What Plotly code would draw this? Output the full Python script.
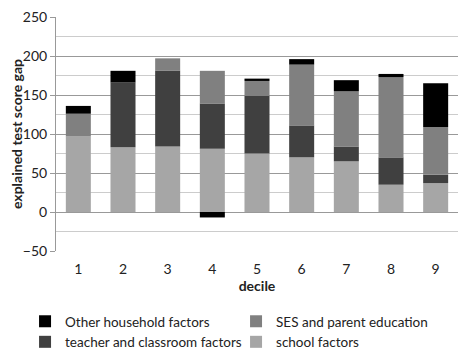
import plotly.graph_objects as go

deciles = ["1", "2", "3", "4", "5", "6", "7", "8", "9"]
school = [97, 83, 84, 81, 75, 70, 65, 35, 37]
teacher = [0, 83, 97, 58, 74, 41, 19, 35, 11]
ses = [29, 0, 16, 42, 19, 78, 71, 103, 61]
other = [10, 15, 0, -7, 3, 7, 14, 4, 56]

series = [
    ("school factors", school, "#a6a6a6"),
    ("teacher and classroom factors", teacher, "#404040"),
    ("SES and parent education", ses, "#808080"),
    ("Other household factors", other, "#000000"),
]

fig = go.Figure()
for name, vals, col in series:
    fig.add_trace(go.Bar(x=deciles, y=vals, name=name, marker=dict(color=col, line=dict(width=0))))

font = "Lato, Open Sans, Liberation Sans, sans-serif"
fig.update_layout(
    width=466, height=353,
    barmode="relative", bargap=0.44,
    paper_bgcolor="white", plot_bgcolor="white",
    margin=dict(l=48, r=16, t=9, b=110, autoexpand=False),
    font=dict(family=font, size=13, color="#222"),
    showlegend=True,
    legend=dict(orientation="h", traceorder="reversed", x=-0.077, xanchor="left", y=-0.235, yanchor="top",
                entrywidth=166, entrywidthmode="pixels", font=dict(size=13.5, family=font),
                itemwidth=30, tracegroupgap=0),
    xaxis=dict(showgrid=False, showline=False, ticks="", tickfont=dict(size=14), automargin=False,
               ticklabelstandoff=8,
               title=dict(text="<b>decile</b>", font=dict(size=14), standoff=4)),
    yaxis=dict(range=[-50, 250], dtick=50, showgrid=True, gridcolor="#999999", gridwidth=1,
               minor=dict(dtick=25, showgrid=True, gridcolor="#cccccc", gridwidth=1),
               zeroline=True, zerolinecolor="#999999", zerolinewidth=1,
               showline=True, linecolor="#999999", linewidth=1, automargin=False,
               ticklabeloverflow="allow",
               ticks="outside", ticklen=5, tickcolor="#999999", tickfont=dict(size=14),
               title=dict(text="<b>explained test score gap</b>", font=dict(size=14), standoff=6)),
)
fig.write_html("out.html")
